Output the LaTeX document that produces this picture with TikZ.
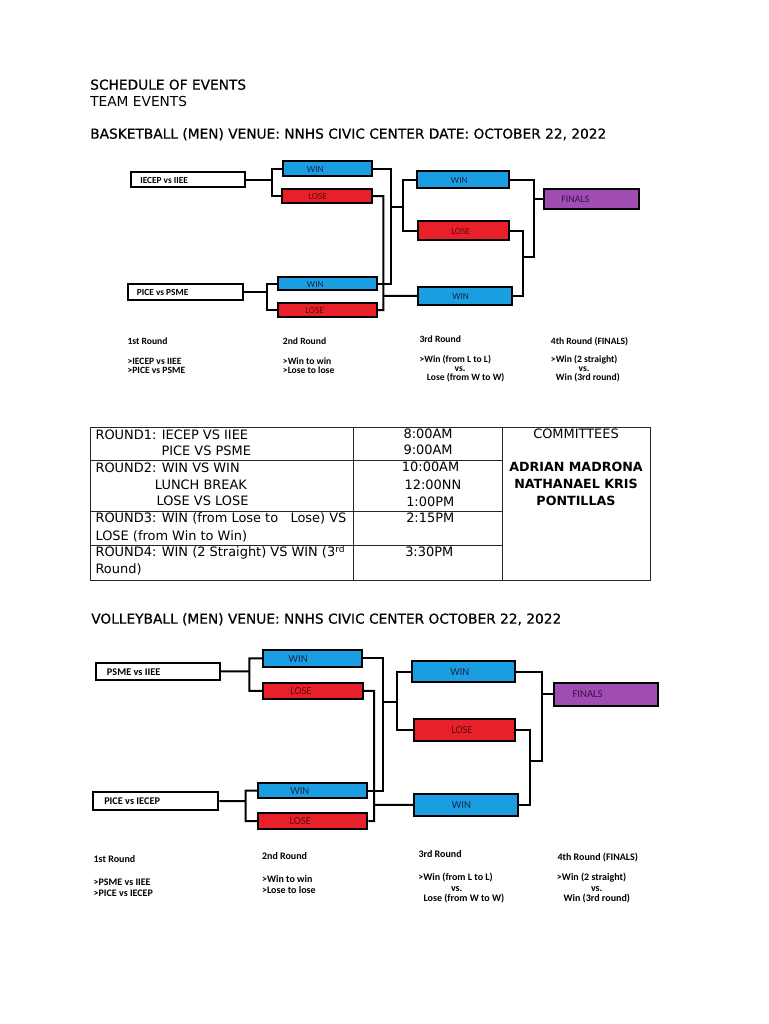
\documentclass[tikz,border=0pt]{standalone}
\usepackage{fontspec}
\setmainfont{DejaVu Sans}
\newfontfamily\calib{Carlito}
\newfontfamily\titlef[FakeBold=0.5]{DejaVu Sans}
\definecolor{winblue}{HTML}{1B9DE2}
\definecolor{losered}{HTML}{E8202A}
\definecolor{finpurple}{HTML}{9F4DB3}
\definecolor{wintext}{HTML}{14284A}
\definecolor{losetext}{HTML}{5A0A0E}
\definecolor{fintext}{HTML}{3A1048}
\newcommand{\bbox}[9]{%
  \node[#6, minimum width={(#4-#2)*0.75pt}, minimum height={(#5-#3)*0.75pt}] (#1) at ({(#2+#4)/2},{(#3+#5)/2}) {};
  \node[#8] at (#7,{(#3+#5)/2}) {#9};}
\begin{document}
\begin{tikzpicture}[x=0.75pt,y=-0.75pt,
  txt/.style={inner sep=0pt, anchor=mid west},
  ctxt/.style={inner sep=0pt, anchor=mid},
  title/.style={txt, font=\titlef\fontsize{10.3}{12}\selectfont},
  plain/.style={txt, font=\fontsize{10.3}{12}\selectfont},
  cell/.style={txt, font=\fontsize{9.7}{11}\selectfont},
  ccell/.style={ctxt, font=\fontsize{9.7}{11}\selectfont},
  bcell/.style={ctxt, font=\bfseries\fontsize{9.5}{11}\selectfont},
  rlab/.style={txt, font=\calib\bfseries\fontsize{#1}{#1}\selectfont},
  crlab/.style={ctxt, font=\calib\bfseries\fontsize{#1}{#1}\selectfont},
  box/.style={rectangle, draw=black, line width=1.7pt, inner sep=0pt},
  tbox/.style={box, fill=white},
  wbox/.style={box, fill=winblue},
  lbox/.style={box, fill=losered},
  fbox/.style={box, fill=finpurple},
  blab/.style={txt, font=\calib\fontsize{#1}{#1}\selectfont},
  tlab/.style={txt, font=\calib\bfseries\fontsize{#1}{#1}\selectfont},
  conn/.style={draw=black, line width=1.5pt},
  tbl/.style={draw=black!85, line width=0.75pt}]
\useasboundingbox (0,0) rectangle (768,1024);
\fill[white] (0,0) rectangle (768,1024);

% ---------- titles ----------
\node[title] (t1) at (90,86) {SCHEDULE OF EVENTS};
\node[plain] (t2) at (90,103) {TEAM EVENTS};
\node[title] (t3) at (90,135) {BASKETBALL (MEN) VENUE: NNHS CIVIC CENTER DATE: OCTOBER 22, 2022};

% ---------- basketball bracket ----------
\coordinate (bf1) at (271.7,179.5);
\coordinate (bf2) at (266.7,292);
\coordinate (bj1) at (391,207.3);
\coordinate (bk1) at (403.3,207.3);
\coordinate (bj2) at (383.3,295.8);
\coordinate (bj3) at (522.7,257.3);
\coordinate (bk2) at (534,199);

\bbox{bt1}{131}{172}{245}{187}{tbox}{140}{tlab=7}{IECEP vs IIEE}
\bbox{bt2}{128}{284}{243}{300}{tbox}{136.7}{tlab=7}{PICE vs PSME}
\bbox{bw1}{283}{161}{372}{176}{wbox}{306.7}{blab=7,text=wintext}{WIN}
\bbox{bl1}{282}{189}{372}{203}{lbox}{308}{blab=7,text=losetext}{LOSE}
\bbox{bw2}{278}{277}{377}{290}{wbox}{306.7}{blab=7,text=wintext}{WIN}
\bbox{bl2}{278}{303}{377}{317}{lbox}{305}{blab=7,text=losetext}{LOSE}
\bbox{bw3}{416.7}{170.7}{509.3}{188.3}{wbox}{450.7}{blab=7,text=wintext}{WIN}
\bbox{bl3}{418}{221}{509}{240}{lbox}{451}{blab=7,text=losetext}{LOSE}
\bbox{bw4}{418}{286.7}{512}{305}{wbox}{452}{blab=7,text=wintext}{WIN}
\bbox{bfin}{544}{189}{639}{209}{fbox}{561}{blab=7.5,text=fintext}{FINALS}

\draw[conn] (bt1.east) -- (bf1) (bw1.west) -| (bf1) (bl1.west) -| (bf1);
\draw[conn] (bt2.east) -- (bf2) (bw2.west) -| (bf2) (bl2.west) -| (bf2);
\draw[conn] (bw1.east) -| (bj1) (bw2.east) -| (bj1) (bj1) -- (bk1);
\draw[conn] (bw3.west) -| (bk1) (bl3.west) -| (bk1);
\draw[conn] (bl1.east) -| (bj2) (bl2.east) -| (bj2) (bj2) -- (bw4.west);
\draw[conn] (bl3.east) -| (bj3) (bw4.east) -| (bj3);
\draw[conn] (bw3.east) -| (bk2) (bj3) -| (bk2) (bk2) -- (bfin.west);

% basketball round labels
\node[rlab=7.2] (br1) at (127.3,341) {1st Round};
\node[rlab=7.2] (br1a) at (127.3,360.7) {>IECEP vs IIEE};
\node[rlab=7.2] (br1b) at (127.3,370) {>PICE vs PSME};
\node[rlab=7.2] (br2) at (282.7,341) {2nd Round};
\node[rlab=7.2] (br2a) at (282.7,360.7) {>Win to win};
\node[rlab=7.2] (br2b) at (282.7,370) {>Lose to lose};
\node[rlab=7.2] (br3) at (419.3,339.3) {3rd Round};
\node[rlab=7.2] (br3a) at (419.3,359.3) {>Win (from L to L)};
\node[crlab=7.2] (br3b) at (460,367.7) {vs.};
\node[rlab=7.2] (br3c) at (426.7,376.7) {Lose (from W to W)};
\node[rlab=7.2] (br4) at (550.7,341) {4th Round (FINALS)};
\node[rlab=7.2] (br4a) at (550.7,359.3) {>Win (2 straight)};
\node[crlab=7.2] (br4b) at (584,367.7) {vs.};
\node[rlab=7.2] (br4c) at (555.7,376.7) {Win (3rd round)};

% ---------- table ----------
\draw[tbl] (90.7,427.7) rectangle (650,580);
\draw[tbl] (353.7,427.7) -- (353.7,580);
\draw[tbl] (502.3,427.7) -- (502.3,580);
\draw[tbl] (90.7,460) -- (502.3,460);
\draw[tbl] (90.7,511) -- (502.3,511);
\draw[tbl] (90.7,545) -- (502.3,545);

\node[cell] (c1) at (95.3,435.5) {ROUND1: IECEP VS IIEE};
\node[cell] (c2) at (161.3,451.5) {PICE VS PSME};
\node[cell] (c3) at (95.3,468.5) {ROUND2: WIN VS WIN};
\node[cell] (c4) at (154.7,485.5) {LUNCH BREAK};
\node[cell] (c5) at (156.3,502.3) {LOSE VS LOSE};
\node[cell] (c6) at (95.3,519.3) {ROUND3: WIN (from Lose to\ \ \ Lose) VS};
\node[cell] (c7) at (95.3,536.5) {LOSE (from Win to Win)};
\node[cell] (c8) at (95.3,553.3) {ROUND4: WIN (2 Straight) VS WIN (3\textsuperscript{rd}};
\node[cell] (c9) at (95.3,570) {Round)};

\node[cell] (d1) at (403.3,435) {8:00AM};
\node[cell] (d2) at (403.3,451) {9:00AM};
\node[cell] (d3) at (401.7,468.3) {10:00AM};
\node[cell] (d4) at (404.3,485.5) {12:00NN};
\node[cell] (d5) at (406,502.5) {1:00PM};
\node[cell] (d6) at (406,519.3) {2:15PM};
\node[cell] (d7) at (405,553.3) {3:30PM};

\node[ccell] (e1) at (576,435) {COMMITTEES};
\node[bcell] (e2) at (576,468.3) {ADRIAN MADRONA};
\node[bcell] (e3) at (576,485) {NATHANAEL KRIS};
\node[bcell] (e4) at (576,501.7) {PONTILLAS};

% ---------- volleyball ----------
\node[title] (t4) at (91,620) {VOLLEYBALL (MEN) VENUE: NNHS CIVIC CENTER OCTOBER 22, 2022};

\coordinate (vf1) at (249.3,671.4);
\coordinate (vf2) at (245.7,801.2);
\coordinate (vj1) at (383.3,702.3);
\coordinate (vk1) at (397.3,702.3);
\coordinate (vj2) at (374,804.9);
\coordinate (vj3) at (530,760.7);
\coordinate (vk2) at (542.3,694.2);

\bbox{vt1}{95.7}{662.7}{220}{680}{tbox}{106.7}{tlab=7.7}{PSME vs IIEE}
\bbox{vt2}{92.7}{792.3}{218.3}{810}{tbox}{104}{tlab=7.7}{PICE vs IECEP}
\bbox{vw1}{263.3}{650}{361.7}{666.7}{wbox}{288.3}{blab=8,text=wintext}{WIN}
\bbox{vl1}{263.3}{682.7}{362.7}{699}{lbox}{290}{blab=8,text=losetext}{LOSE}
\bbox{vw2}{258.3}{782.7}{367.3}{798.3}{wbox}{290}{blab=8,text=wintext}{WIN}
\bbox{vl2}{258.3}{813.3}{367.3}{829}{lbox}{289.3}{blab=8,text=losetext}{LOSE}
\bbox{vw3}{412.3}{661}{515}{682.3}{wbox}{450}{blab=8,text=wintext}{WIN}
\bbox{vl3}{414.3}{719}{515}{741}{lbox}{451}{blab=8,text=losetext}{LOSE}
\bbox{vw4}{414.3}{794}{517.7}{815.7}{wbox}{451.7}{blab=8,text=wintext}{WIN}
\bbox{vfin}{554.3}{682.7}{658.3}{705.7}{fbox}{572.3}{blab=8,text=fintext}{FINALS}

\draw[conn] (vt1.east) -- (vf1) (vw1.west) -| (vf1) (vl1.west) -| (vf1);
\draw[conn] (vt2.east) -- (vf2) (vw2.west) -| (vf2) (vl2.west) -| (vf2);
\draw[conn] (vw1.east) -| (vj1) (vw2.east) -| (vj1) (vj1) -- (vk1);
\draw[conn] (vw3.west) -| (vk1) (vl3.west) -| (vk1);
\draw[conn] (vl1.east) -| (vj2) (vl2.east) -| (vj2) (vj2) -- (vw4.west);
\draw[conn] (vl3.east) -| (vj3) (vw4.east) -| (vj3);
\draw[conn] (vw3.east) -| (vk2) (vj3) -| (vk2) (vk2) -- (vfin.west);

% volleyball round labels
\node[rlab=7.5] (vr1) at (93.4,859) {1st Round};
\node[rlab=7.5] (vr1a) at (93.4,882) {>PSME vs IIEE};
\node[rlab=7.5] (vr1b) at (93.4,893) {>PICE vs IECEP};
\node[rlab=7.5] (vr2) at (261.8,856) {2nd Round};
\node[rlab=7.5] (vr2a) at (261.8,879) {>Win to win};
\node[rlab=7.5] (vr2b) at (261.8,890) {>Lose to lose};
\node[rlab=7.5] (vr3) at (418.3,854.3) {3rd Round};
\node[rlab=7.5] (vr3a) at (418,876.7) {>Win (from L to L)};
\node[crlab=7.5] (vr3b) at (456.7,887.7) {vs.};
\node[rlab=7.5] (vr3c) at (423.3,897.7) {Lose (from W to W)};
\node[rlab=7.5] (vr4) at (557.3,857.3) {4th Round (FINALS)};
\node[rlab=7.5] (vr4a) at (556.7,876.7) {>Win (2 straight)};
\node[crlab=7.5] (vr4b) at (596.7,887.7) {vs.};
\node[rlab=7.5] (vr4c) at (563.3,897.7) {Win (3rd round)};
\end{tikzpicture}
\end{document}
